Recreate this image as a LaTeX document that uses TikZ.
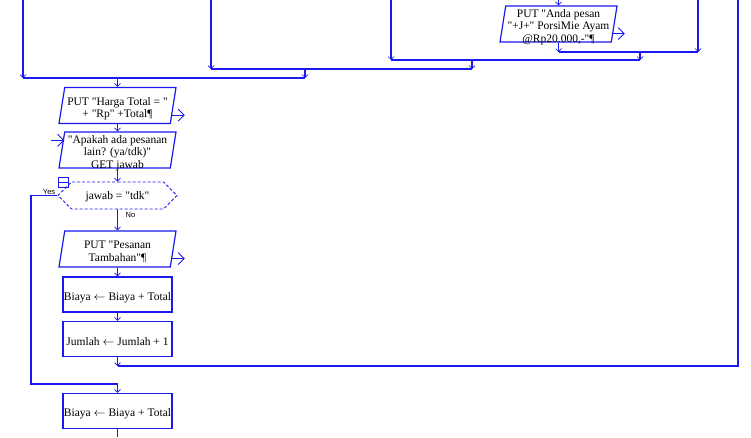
\documentclass[tikz,border=0pt]{standalone}
\usepackage{fontspec}
\setmainfont{Liberation Serif}[Ligatures=TeXOff]
\newfontfamily\lblfont{Liberation Sans}
\usetikzlibrary{shapes.geometric, shapes.symbols, arrows.meta}
\definecolor{flowblue}{RGB}{25,25,240}
\tikzset{
  line/.style = {draw=flowblue, line width=1.2pt},
  flow/.style = {line, -{Straight Barb[length=3pt,width=6pt,line width=0.7pt]}},
  sendarrow/.style = {line, -{Straight Barb[length=6pt,width=12pt,line width=0.9pt]}},
  io/.style = {trapezium, trapezium left angle=81, trapezium right angle=99, trapezium stretches body,
    draw=flowblue, line width=1.2pt, minimum width=117pt, minimum height=36pt,
    inner xsep=0pt, inner ysep=18pt},
  proc/.style = {rectangle, draw=flowblue, line width=1.2pt, minimum width=109pt, minimum height=35pt,
    inner sep=0pt},
  cond/.style = {signal, signal to=west and east, signal pointer angle=90, draw=flowblue,
    line width=0.8pt, dash pattern=on 3pt off 2pt, minimum width=119pt, minimum height=27pt,
    inner sep=0pt},
  msg/.style = {inner sep=0pt, align=center, yshift=-3pt, font=\fontsize{11.5}{12.3}\selectfont},
  yesno/.style = {font=\lblfont\fontsize{7.5}{8}\selectfont, inner sep=0pt}
}
\begin{document}
\begin{tikzpicture}[x=1pt,y=-1pt]
\useasboundingbox (0,0) rectangle (751,437);
\node[io] (anda) at (558.5,24) {};
\node[io] (harga) at (117.5,105.5) {};
\node[io] (apakah) at (117.5,150) {};
\node[cond] (jawab) at (117.5,195.5) {};
\node[io] (pesanan) at (117.5,249) {};
\node[proc] (biaya) at (117.5,294.5) {};
\node[proc] (jumlah) at (117.5,339) {};
\node[proc] (biayaakhir) at (117.5,411) {};
\node[msg] (anda-t) at (anda) {PUT "Anda pesan\\"+J+" PorsiMie Ayam\\@Rp20.000,-"¶};
\node[msg] (harga-t) at (harga) {PUT "Harga Total = "\\+ "Rp" +Total¶};
\node[msg] (apakah-t) at (apakah) {"Apakah ada pesanan\\lain? (ya/tdk)"\\GET jawab};
\node[msg, yshift=2pt] (jawab-t) at (jawab) {jawab = "tdk"};
\node[msg] (pesanan-t) at (pesanan) {PUT "Pesanan\\Tambahan"¶};
\node[msg] (biaya-t) at (biaya) {Biaya $\leftarrow$ Biaya + Total};
\node[msg] (jumlah-t) at (jumlah) {Jumlah $\leftarrow$ Jumlah + 1};
\node[msg] (biayaakhir-t) at (biayaakhir) {Biaya $\leftarrow$ Biaya + Total};
\coordinate (m1) at (117.5,78);
\coordinate (m2) at (305,78);
\coordinate (m3) at (472,69);
\coordinate (m4) at (640,60);
\coordinate (m5) at (558.5,52);
\coordinate (back) at (117.5,366);
\coordinate (yes) at (117.5,384);
\draw[flow] (23,0) -- (23,78);
\draw[flow] (211,0) -- (211,69);
\draw[flow] (391,0) -- (391,60);
\draw[flow] (558.5,0) -- (anda);
\draw[flow] (698,0) -- (698,52);
\draw[flow] (anda) -- (m5);
\draw[line] (m5) -- (698,52);
\draw[flow] (640,52) -- (m4);
\draw[line] (391,60) -- (m4);
\draw[flow] (472,60) -- (m3);
\draw[line] (211,69) -- (m3);
\draw[flow] (305,69) -- (m2);
\draw[line] (23,78) -- (m2);
\draw[flow] (m1) -- (harga);
\draw[flow] (harga) -- (apakah);
\draw[flow] (apakah) -- (jawab);
\draw[flow] (jawab) -- (pesanan);
\draw[flow] (pesanan) -- (biaya);
\draw[flow] (biaya) -- (jumlah);
\draw[flow] (jumlah) -- (back);
\draw[line] (back) -- (738,366) -- (738,0);
\draw[flow] (jawab.west) -- (31,195.5) |- (yes) -- (biayaakhir);
\draw[line] (biayaakhir) -- (117.5,437);
\draw[sendarrow] ([yshift=9pt]anda.bottom right corner) -- ++(13,0);
\draw[sendarrow] ([yshift=9pt]harga.bottom right corner) -- ++(14,0);
\draw[sendarrow] ([yshift=9pt]pesanan.bottom right corner) -- ++(14,0);
\draw[sendarrow] ([xshift=-13pt,yshift=-9pt]apakah.top left corner) -- ++(13,0);
\node[yesno, anchor=south east] (yes-l) at ([xshift=-2pt,yshift=1pt]jawab.west) {Yes};
\node[yesno, anchor=north west] (no-l) at ([xshift=8pt,yshift=-3pt]jawab.south) {No};
\draw[flowblue, line width=0.8pt] (58,177) rectangle (68,187) (58,182) -- (68,182);
\end{tikzpicture}
\end{document}
